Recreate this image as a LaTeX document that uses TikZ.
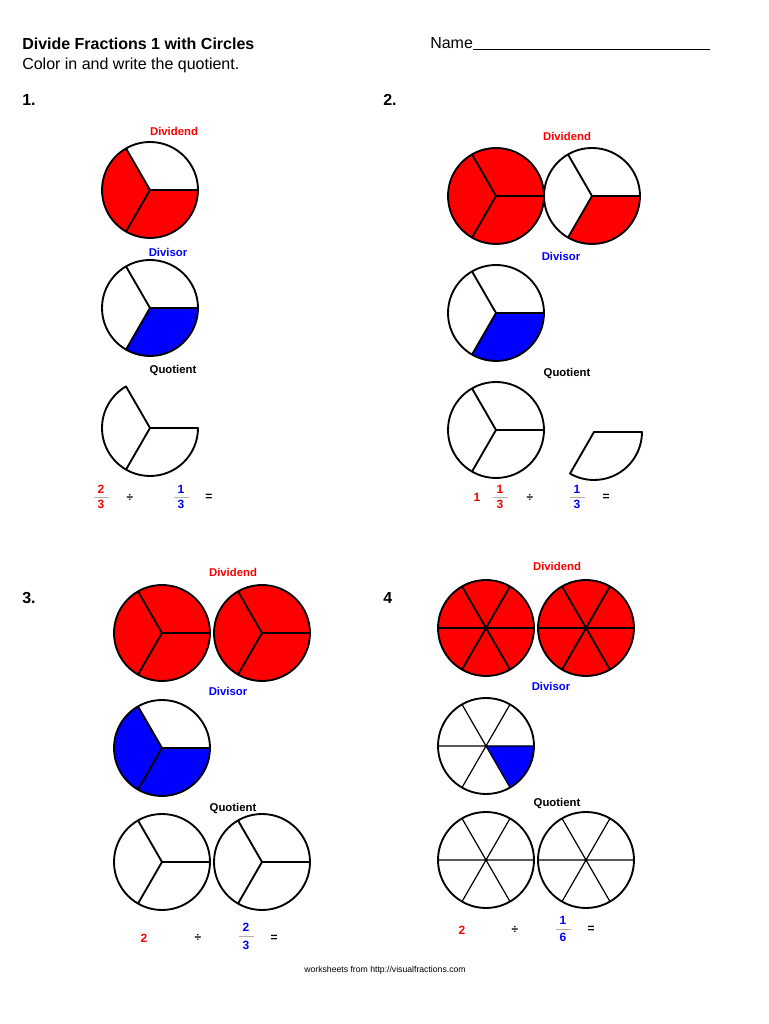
\documentclass[tikz,border=0pt]{standalone}
\usepackage{fontspec}
\setmainfont{Liberation Sans}
\begin{document}
\begin{tikzpicture}[x=0.75pt,y=0.75pt,
  lbl/.style={font=\fontsize{8.5}{9}\selectfont\bfseries,inner sep=0pt},
  num/.style={font=\fontsize{9}{10}\selectfont\bfseries,inner sep=0pt},
  edge/.style={line width=1.4pt,line join=round},
  thin6/.style={line width=0.9pt}]
\useasboundingbox (0,0) rectangle (768,1024);
\fill[white] (0,0) rectangle (768,1024);
\def\R{48}
% sector fill: center, start, end, colour
\newcommand\sect[4]{\fill[#4] (#1) -- ++(#2:\R) arc[start angle=#2,end angle=#3,radius=\R] -- cycle;}
\newcommand\thirds[1]{\draw[edge] (#1) circle[radius=\R];
  \draw[edge] (#1) -- ++(0:\R) (#1) -- ++(120:\R) (#1) -- ++(240:\R);}
\newcommand\sixths[2]{\draw[edge] (#1) circle[radius=\R];
  \draw[#2] (#1) ++(0:\R) -- ++(180:2*\R) (#1) ++(60:\R) -- ++(240:2*\R) (#1) ++(120:\R) -- ++(300:2*\R);}
\newcommand\frc[4]{\node[num,text=#4] (#1a) at (#2,#3+8) {#1};}
% header
\node[anchor=west,inner sep=0pt,font=\fontsize{12}{14}\selectfont\bfseries] (title) at (22,980) {Divide Fractions 1 with Circles};
\node[anchor=west,inner sep=0pt,font=\fontsize{12}{14}\selectfont] (sub) at (22,959) {Color in and write the quotient.};
\node[anchor=west,inner sep=0pt,font=\fontsize{12}{14}\selectfont] (name) at (430,980) {Name\rule[-1pt]{178pt}{0.5pt}};
\node[anchor=west,inner sep=0pt,font=\fontsize{12}{14}\selectfont\bfseries] (n1) at (22,924) {1.};
\node[anchor=west,inner sep=0pt,font=\fontsize{12}{14}\selectfont\bfseries] (n2) at (383,924) {2.};
\node[anchor=west,inner sep=0pt,font=\fontsize{12}{14}\selectfont\bfseries] (n3) at (22,426) {3.};
\node[anchor=west,inner sep=0pt,font=\fontsize{12}{14}\selectfont\bfseries] (n4) at (383,426) {4};
% ---- Problem 1
\node[lbl,text=red] (d1) at (174,893) {Dividend};
\coordinate (a1) at (150,834);
\sect{a1}{120}{360}{red}\thirds{a1}
\node[lbl,text=blue] (v1) at (168,772) {Divisor};
\coordinate (b1) at (150,716);
\sect{b1}{240}{360}{blue}\thirds{b1}
\node[lbl] (q1) at (173,653) {Quotient};
\coordinate (c1) at (150,596);
\draw[edge] (c1) -- ++(0:\R) arc[start angle=0,end angle=-240,radius=\R] -- cycle;
\draw[edge] (c1) -- ++(240:\R);
% ---- Problem 2
\node[lbl,text=red] (d2) at (567,888) {Dividend};
\coordinate (a2) at (496,828); \coordinate (a2b) at (592,828);
\sect{a2}{0}{360}{red}\thirds{a2}
\sect{a2b}{240}{360}{red}\thirds{a2b}
\node[lbl,text=blue] (v2) at (561,768) {Divisor};
\coordinate (b2) at (496,711);
\sect{b2}{240}{360}{blue}\thirds{b2}
\node[lbl] (q2) at (567,650) {Quotient};
\coordinate (c2) at (496,594); \thirds{c2}
\coordinate (c2b) at (594,592);
\draw[edge] (c2b) -- ++(0:\R) arc[start angle=0,end angle=-120,radius=\R] -- cycle;
% ---- Problem 3
\node[lbl,text=red] (d3) at (233,452) {Dividend};
\coordinate (a3) at (162,391); \coordinate (a3b) at (262,391);
\sect{a3}{0}{360}{red}\thirds{a3}
\sect{a3b}{0}{360}{red}\thirds{a3b}
\node[lbl,text=blue] (v3) at (228,333) {Divisor};
\coordinate (b3) at (162,276);
\sect{b3}{120}{360}{blue}\thirds{b3}
\node[lbl] (q3) at (233,215) {Quotient};
\coordinate (c3) at (162,162); \coordinate (c3b) at (262,162);
\thirds{c3}\thirds{c3b}
% ---- Problem 4
\node[lbl,text=red] (d4) at (557,458) {Dividend};
\coordinate (a4) at (486,396); \coordinate (a4b) at (586,396);
\sect{a4}{0}{360}{red}\sixths{a4}{edge}
\sect{a4b}{0}{360}{red}\sixths{a4b}{edge}
\node[lbl,text=blue] (v4) at (551,338) {Divisor};
\coordinate (b4) at (486,278);
\sect{b4}{300}{360}{blue}\sixths{b4}{thin6}
\node[lbl] (q4) at (557,220) {Quotient};
\coordinate (c4) at (486,164); \coordinate (c4b) at (586,164);
\sixths{c4}{thin6}\sixths{c4b}{thin6}
% ---- equations
\tikzset{fbar/.style={draw=gray!60,line width=0.6pt}}
% P1
\node[num,text=red] (p1n) at (101,535) {2}; \node[num,text=red] (p1d) at (101,520) {3};
\draw[fbar] (94,527) -- (109,527);
\node[num] (p1x) at (130,526) {÷};
\node[num,text=blue] (p1m) at (181,535) {1}; \node[num,text=blue] (p1e) at (181,520) {3};
\draw[fbar] (174,527) -- (189,527);
\node[num] (p1q) at (209,527) {=};
% P2
\node[num,text=red] (p2w) at (477,527) {1};
\node[num,text=red] (p2n) at (500,535) {1}; \node[num,text=red] (p2d) at (500,520) {3};
\draw[fbar] (493,527) -- (508,527);
\node[num] (p2x) at (530,526) {÷};
\node[num,text=blue] (p2m) at (577,535) {1}; \node[num,text=blue] (p2e) at (577,520) {3};
\draw[fbar] (570,527) -- (585,527);
\node[num] (p2q) at (606,527) {=};
% P3
\node[num,text=red] (p3w) at (144,86) {2};
\node[num] (p3x) at (198,86) {÷};
\node[num,text=blue] (p3m) at (246,97) {2}; \node[num,text=blue] (p3e) at (246,79) {3};
\draw[fbar] (239,88) -- (254,88);
\node[num] (p3q) at (274,86) {=};
% P4
\node[num,text=red] (p4w) at (462,94) {2};
\node[num] (p4x) at (515,94) {÷};
\node[num,text=blue] (p4m) at (563,104) {1}; \node[num,text=blue] (p4e) at (563,87) {6};
\draw[fbar] (556,95) -- (571,95);
\node[num] (p4q) at (591,95) {=};
% footer
\node[inner sep=0pt,font=\fontsize{6.5}{7}\selectfont] (foot) at (385,54) {worksheets from http://visualfractions.com};
\end{tikzpicture}
\end{document}
